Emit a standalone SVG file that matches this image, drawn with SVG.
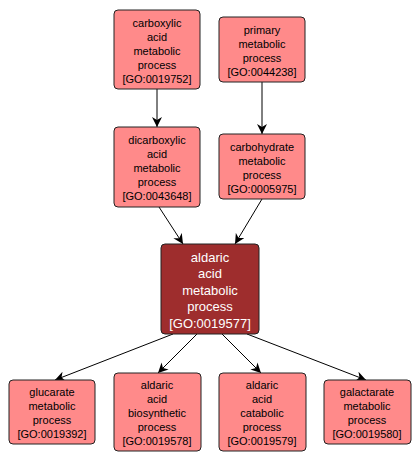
<svg xmlns="http://www.w3.org/2000/svg" width="420" height="463" viewBox="0 0 420 463">
<defs>
<style>
.n rect{fill:#ff8a8a;stroke:#222;stroke-width:1}
.c rect{fill:#9e2d2d;stroke:#222;stroke-width:1}
text{font-family:"Liberation Sans",Arial,sans-serif;font-size:11px;text-anchor:middle;fill:#000}
.c text{fill:#fff;font-size:13px}
.e line{stroke:#000;stroke-width:1;marker-end:url(#a)}
</style>
<marker id="a" viewBox="0 0 10 10" refX="10" refY="5" markerWidth="10" markerHeight="10" markerUnits="userSpaceOnUse" orient="auto">
<path d="M0,0 L10,5 L0,10 L3,5 Z" fill="#000"/>
</marker>
</defs>
<rect width="420" height="463" fill="#fff"/>
<g class="e">
<line x1="157" y1="89" x2="157" y2="127"/>
<line x1="262" y1="82" x2="262" y2="134"/>
<line x1="159" y1="207" x2="183" y2="244"/>
<line x1="262" y1="199" x2="235" y2="244"/>
<line x1="173" y1="334" x2="55" y2="380"/>
<line x1="197" y1="334" x2="158" y2="373"/>
<line x1="222" y1="334" x2="261" y2="373"/>
<line x1="247" y1="334" x2="366" y2="380"/>
</g>
<g id="GO0019752" class="n"><rect x="114" y="10" width="86" height="79" rx="4"/>
<text x="157" y="27">carboxylic</text><text x="157" y="41">acid</text><text x="157" y="55">metabolic</text><text x="157" y="69">process</text><text x="157" y="83">[GO:0019752]</text></g>
<g id="GO0044238" class="n"><rect x="219" y="17" width="86" height="65" rx="4"/>
<text x="262" y="34">primary</text><text x="262" y="48">metabolic</text><text x="262" y="62">process</text><text x="262" y="76">[GO:0044238]</text></g>
<g id="GO0043648" class="n"><rect x="114" y="127" width="86" height="80" rx="4"/>
<text x="157" y="144">dicarboxylic</text><text x="157" y="158">acid</text><text x="157" y="172">metabolic</text><text x="157" y="186">process</text><text x="157" y="200">[GO:0043648]</text></g>
<g id="GO0005975" class="n"><rect x="219" y="134" width="86" height="65" rx="4"/>
<text x="262" y="151">carbohydrate</text><text x="262" y="165">metabolic</text><text x="262" y="179">process</text><text x="262" y="193">[GO:0005975]</text></g>
<g id="GO0019577" class="c"><rect x="161" y="244" width="98" height="90" rx="4"/>
<text x="210" y="262">aldaric</text><text x="210" y="278">acid</text><text x="210" y="295">metabolic</text><text x="210" y="311">process</text><text x="210" y="328">[GO:0019577]</text></g>
<g id="GO0019392" class="n"><rect x="9" y="380" width="86" height="64" rx="4"/>
<text x="52" y="396">glucarate</text><text x="52" y="410">metabolic</text><text x="52" y="424">process</text><text x="52" y="438">[GO:0019392]</text></g>
<g id="GO0019578" class="n"><rect x="114" y="373" width="87" height="78" rx="4"/>
<text x="157" y="389">aldaric</text><text x="157" y="403">acid</text><text x="157" y="417">biosynthetic</text><text x="157" y="431">process</text><text x="157" y="445">[GO:0019578]</text></g>
<g id="GO0019579" class="n"><rect x="219" y="373" width="87" height="78" rx="4"/>
<text x="262" y="389">aldaric</text><text x="262" y="403">acid</text><text x="262" y="417">catabolic</text><text x="262" y="431">process</text><text x="262" y="445">[GO:0019579]</text></g>
<g id="GO0019580" class="n"><rect x="324" y="380" width="87" height="64" rx="4"/>
<text x="367" y="396">galactarate</text><text x="367" y="410">metabolic</text><text x="367" y="424">process</text><text x="367" y="438">[GO:0019580]</text></g>
</svg>
